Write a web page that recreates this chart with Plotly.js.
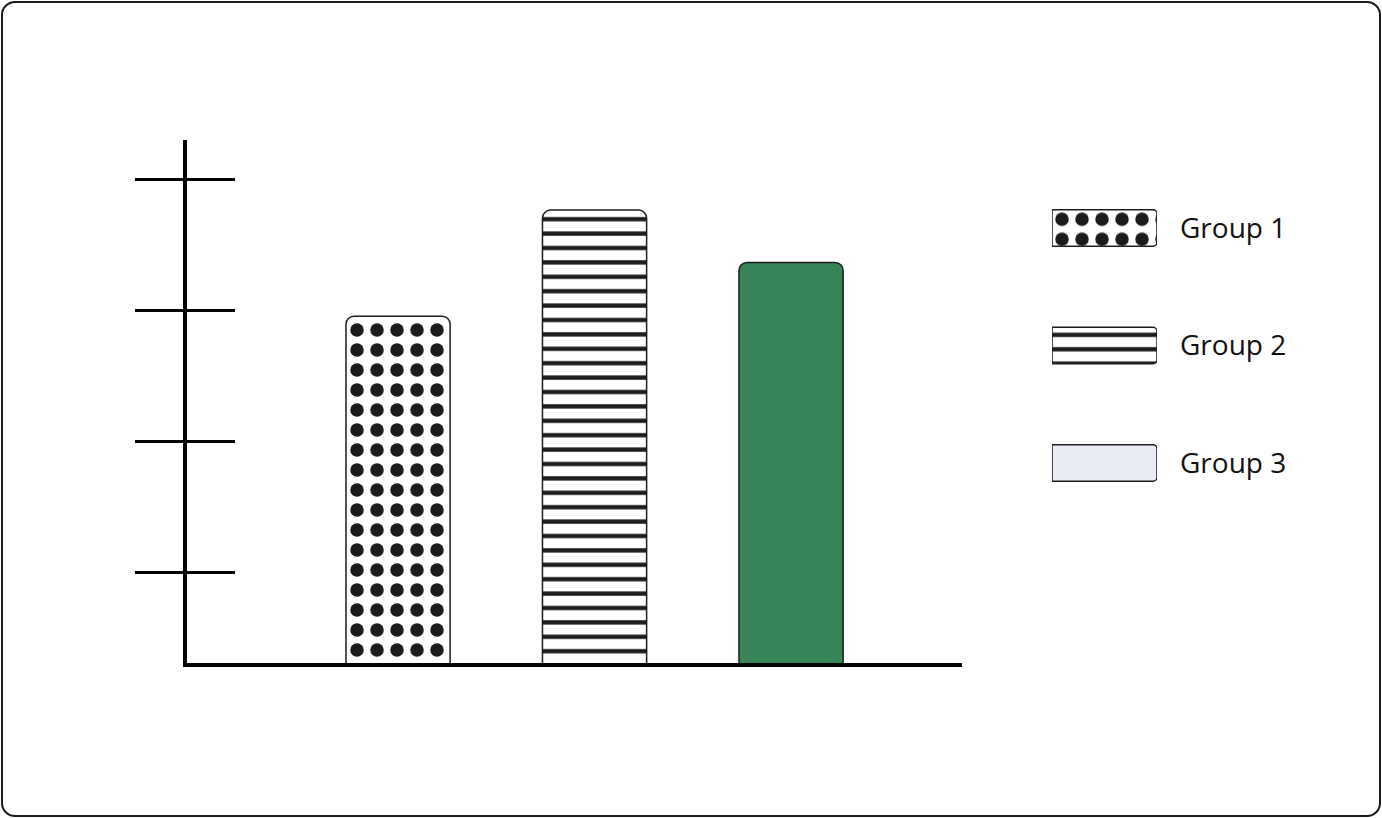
<!DOCTYPE html>
<html>
<head>
<meta charset="utf-8">
<script src="https://cdn.plot.ly/plotly-3.0.1.min.js"></script>
<style>
  body { margin: 0; background: #fff; }
  #wrap { position: relative; width: 1382px; height: 818px; }
  #chartDiv { width: 1382px; height: 818px; }
  #frame {
    position: absolute; left: 1px; top: 1px; width: 1380px; height: 816px;
    box-sizing: border-box; border: 2px solid #1a1a1a; border-radius: 14px;
    pointer-events: none;
  }
</style>
</head>
<body>
<div id="wrap">
  <div id="chartDiv"></div>
  <div id="frame"></div>
</div>
<script>
// values (one tick step = 1 unit)
var groups = ['Group 1', 'Group 2', 'Group 3'];
var values = [2.96, 3.77, 3.37];
var tickVals = [1, 2, 3, 4];

// fills: bars and legend swatches (the Group 3 swatch is pale, not green)
var barColors = ['#ffffff', '#ffffff', '#378556'];
var legendColors = ['#ffffff', '#ffffff', '#e8edf5'];
var patternShapes = ['.', '-', ''];
var patternSolidity = [0.36, 0.3, 0.3];
var patternSize = [20, 14.4, 10];

var ink = '#1c1c1c';
var W = 1382, H = 818;

function patternFor(i, bg) {
  if (!patternShapes[i]) return {shape: ''};
  return {
    shape: patternShapes[i],
    fgcolor: ink,
    bgcolor: bg,
    fillmode: 'replace',
    size: patternSize[i],
    solidity: patternSolidity[i]
  };
}

var data = [];

// one trace per group; the last one sits on the overlaying axis y3
groups.forEach(function(g, i) {
  data.push({
    type: 'bar',
    x: [g],
    y: [values[i]],
    width: 0.53,
    yaxis: i === groups.length - 1 ? 'y3' : 'y',
    marker: {
      color: barColors[i],
      line: {color: ink, width: 1.5},
      pattern: patternFor(i, barColors[i])
    },
    name: g,
    showlegend: false
  });
});

// legend drawn as a small horizontal bar chart in its own axes
groups.forEach(function(g, i) {
  data.push({
    type: 'bar',
    orientation: 'h',
    x: [1],
    y: [g],
    width: 0.31,
    xaxis: 'x2',
    yaxis: 'y2',
    marker: {
      color: legendColors[i],
      cornerradius: 4,
      line: {color: ink, width: 1.5},
      pattern: patternFor(i, legendColors[i])
    },
    name: g,
    showlegend: false
  });
});

var yRange = [0.313, 4.305];

var layout = {
  width: W,
  height: H,
  margin: {l: 0, r: 0, t: 0, b: 0},
  paper_bgcolor: 'rgba(0,0,0,0)',
  plot_bgcolor: 'rgba(0,0,0,0)',
  font: {family: 'Open Sans, Noto Sans, sans-serif', color: '#111', size: 28},
  barmode: 'overlay',
  barcornerradius: 8,
  showlegend: false,
  xaxis: {
    domain: [187 / W, 962 / W],
    range: [-1.074, 2.87],
    type: 'category',
    categoryorder: 'array',
    categoryarray: groups,
    showline: true, linewidth: 4, linecolor: '#000',
    showgrid: false, zeroline: false,
    showticklabels: false, ticks: '',
    fixedrange: true
  },
  yaxis: {
    domain: [1 - 663 / H, 1 - 140 / H],
    range: yRange,
    showline: true, linewidth: 4, linecolor: '#000',
    showgrid: false, zeroline: false,
    tickvals: tickVals,
    ticks: 'outside', ticklen: 48, tickwidth: 3, tickcolor: '#000',
    showticklabels: false,
    fixedrange: true
  },
  // same scale laid over y, with inside ticks, so the ticks cross the axis line
  yaxis3: {
    overlaying: 'y',
    anchor: 'x',
    side: 'left',
    range: yRange,
    showline: false, showgrid: false, zeroline: false,
    tickvals: tickVals,
    ticks: 'inside', ticklen: 48, tickwidth: 3, tickcolor: '#000',
    showticklabels: false,
    fixedrange: true
  },
  xaxis2: {
    domain: [1052 / W, 1157 / W],
    range: [0, 1],
    anchor: 'y2',
    visible: false,
    fixedrange: true
  },
  yaxis2: {
    domain: [1 - 521.75 / H, 1 - 169.25 / H],
    range: [2.5, -0.5],
    type: 'category',
    categoryorder: 'array',
    categoryarray: groups,
    anchor: 'x2',
    side: 'right',
    showline: false, showgrid: false, zeroline: false,
    ticks: '',
    ticklabelstandoff: 22,
    tickfont: {size: 28, color: '#111'},
    fixedrange: true
  }
};

Plotly.newPlot('chartDiv', data, layout, {displayModeBar: false, staticPlot: true});
</script>
</body>
</html>
